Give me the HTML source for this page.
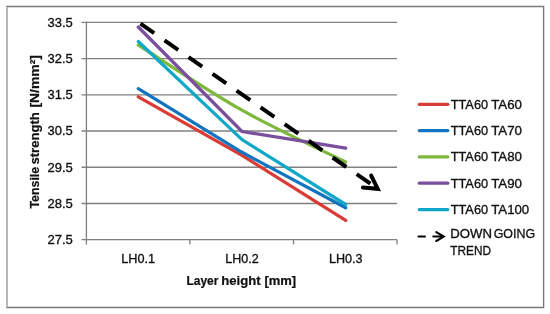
<!DOCTYPE html>
<html><head><meta charset="utf-8"><style>
html,body{margin:0;padding:0;background:#fff;}
body{width:550px;height:314px;overflow:hidden;position:relative;}
svg{position:absolute;left:0;top:0;}
text{font-family:"Liberation Sans",Arial,sans-serif;font-size:13px;fill:#111;stroke:#111;stroke-width:0.33px;}
.b{stroke-width:0.22px;font-size:12.5px;}
.b{font-weight:bold;}
</style></head><body>
<svg width="550" height="314" viewBox="0 0 550 314">
<rect x="0" y="0" width="550" height="314" fill="#fff"/>
<path d="M6.3,6.5 H543.6 V307.5 H6.3" fill="none" stroke="#787878" stroke-width="1.4" stroke-linejoin="miter"/>
<line x1="7" y1="7.2" x2="7" y2="306.8" stroke="#9a9a9a" stroke-width="1.4"/>
<line x1="81.5" y1="22.33" x2="397" y2="22.33" stroke="#808080" stroke-width="1.3"/>
<line x1="81.5" y1="58.56" x2="397" y2="58.56" stroke="#808080" stroke-width="1.3"/>
<line x1="81.5" y1="94.79" x2="397" y2="94.79" stroke="#808080" stroke-width="1.3"/>
<line x1="81.5" y1="131.02" x2="397" y2="131.02" stroke="#808080" stroke-width="1.3"/>
<line x1="81.5" y1="167.25" x2="397" y2="167.25" stroke="#808080" stroke-width="1.3"/>
<line x1="81.5" y1="203.48" x2="397" y2="203.48" stroke="#808080" stroke-width="1.3"/>
<line x1="81.5" y1="239.71" x2="397" y2="239.71" stroke="#808080" stroke-width="1.3"/>
<line x1="86.4" y1="21.7" x2="86.4" y2="244.5" stroke="#808080" stroke-width="1.3"/>
<line x1="189.9" y1="239.7" x2="189.9" y2="244.5" stroke="#808080" stroke-width="1.3"/>
<line x1="293.5" y1="239.7" x2="293.5" y2="244.5" stroke="#808080" stroke-width="1.3"/>
<line x1="397" y1="239.7" x2="397" y2="244.5" stroke="#808080" stroke-width="1.3"/>
<path d="M138.30,96.80 L242.00,155.30 L345.70,220.30" fill="none" stroke="#DA3B35" stroke-width="3.25" stroke-linecap="round" stroke-linejoin="round"/>
<path d="M138.30,88.60 L242.00,152.30 L345.70,207.80" fill="none" stroke="#1174C0" stroke-width="3.25" stroke-linecap="round" stroke-linejoin="round"/>
<path d="M138.30,45.00 C155.58,55.87 207.43,90.70 242.00,110.20 C276.57,129.70 328.42,153.37 345.70,162.00" fill="none" stroke="#7DB83A" stroke-width="3.25" stroke-linecap="round" stroke-linejoin="round"/>
<path d="M138.30,27.00 L242.00,131.50 L345.70,148.20" fill="none" stroke="#7A4F9E" stroke-width="3.25" stroke-linecap="round" stroke-linejoin="round"/>
<path d="M138.30,41.50 L242.00,139.60 L345.70,204.50" fill="none" stroke="#10A8C8" stroke-width="3.25" stroke-linecap="round" stroke-linejoin="round"/>
<line x1="140.5" y1="23.7" x2="372.2" y2="185.0" stroke="#000" stroke-width="4" stroke-dasharray="16.65 12.62"/>
<polyline points="371.2,175.6 377.7,188.8 362.9,187.4" fill="none" stroke="#000" stroke-width="4" stroke-linecap="round" stroke-linejoin="miter"/>

<text x="47.60" y="26.63" textLength="25.25" lengthAdjust="spacingAndGlyphs">33.5</text>
<text x="47.60" y="62.86" textLength="25.25" lengthAdjust="spacingAndGlyphs">32.5</text>
<text x="47.60" y="99.09" textLength="25.25" lengthAdjust="spacingAndGlyphs">31.5</text>
<text x="47.60" y="135.32" textLength="25.25" lengthAdjust="spacingAndGlyphs">30.5</text>
<text x="47.45" y="171.55" textLength="25.41" lengthAdjust="spacingAndGlyphs">29.5</text>
<text x="47.45" y="207.78" textLength="25.41" lengthAdjust="spacingAndGlyphs">28.5</text>
<text x="47.45" y="244.01" textLength="25.41" lengthAdjust="spacingAndGlyphs">27.5</text>
<text x="121.28" y="262.70" textLength="33.85" lengthAdjust="spacingAndGlyphs">LH0.1</text>
<text x="225.19" y="262.70" textLength="33.43" lengthAdjust="spacingAndGlyphs">LH0.2</text>
<text x="328.88" y="262.70" textLength="33.69" lengthAdjust="spacingAndGlyphs">LH0.3</text>

<text class="b" x="186.4" y="284.7" textLength="32" lengthAdjust="spacingAndGlyphs">Layer</text><text class="b" x="221.3" y="284.7" textLength="39.3" lengthAdjust="spacingAndGlyphs">height</text><text class="b" x="264.4" y="284.7" textLength="31.8" lengthAdjust="spacingAndGlyphs">[mm]</text>
<g transform="translate(38.9,208.2) rotate(-90)"><text class="b" x="-0.3" y="0" textLength="41.6" lengthAdjust="spacingAndGlyphs">Tensile</text><text class="b" x="43.7" y="0" textLength="52.3" lengthAdjust="spacingAndGlyphs">strength</text><text class="b" x="100.6" y="0" textLength="52.6" lengthAdjust="spacingAndGlyphs">[N/mm²]</text></g>
<line x1="419.3" y1="104.30" x2="447.8" y2="104.30" stroke="#DA3B35" stroke-width="3.25" stroke-linecap="round"/>
<text x="450.70" y="108.60" textLength="37.43" lengthAdjust="spacingAndGlyphs">TTA60</text>
<text x="491.19" y="108.60" textLength="30.83" lengthAdjust="spacingAndGlyphs">TA60</text>
<line x1="419.3" y1="130.60" x2="447.8" y2="130.60" stroke="#1174C0" stroke-width="3.25" stroke-linecap="round"/>
<text x="450.70" y="134.90" textLength="37.43" lengthAdjust="spacingAndGlyphs">TTA60</text>
<text x="491.19" y="134.90" textLength="30.83" lengthAdjust="spacingAndGlyphs">TA70</text>
<line x1="419.3" y1="156.90" x2="447.8" y2="156.90" stroke="#7DB83A" stroke-width="3.25" stroke-linecap="round"/>
<text x="450.70" y="161.20" textLength="37.43" lengthAdjust="spacingAndGlyphs">TTA60</text>
<text x="491.19" y="161.20" textLength="30.83" lengthAdjust="spacingAndGlyphs">TA80</text>
<line x1="419.3" y1="183.20" x2="447.8" y2="183.20" stroke="#7A4F9E" stroke-width="3.25" stroke-linecap="round"/>
<text x="450.70" y="187.50" textLength="37.43" lengthAdjust="spacingAndGlyphs">TTA60</text>
<text x="491.19" y="187.50" textLength="30.83" lengthAdjust="spacingAndGlyphs">TA90</text>
<line x1="419.3" y1="209.50" x2="447.8" y2="209.50" stroke="#10A8C8" stroke-width="3.25" stroke-linecap="round"/>
<text x="450.70" y="213.80" textLength="37.43" lengthAdjust="spacingAndGlyphs">TTA60</text>
<text x="491.19" y="213.80" textLength="38.05" lengthAdjust="spacingAndGlyphs">TA100</text>
<line x1="418.5" y1="236.55" x2="424.9" y2="236.55" stroke="#000" stroke-width="2.1" stroke-linecap="round"/>
<line x1="433.3" y1="236.55" x2="443" y2="236.55" stroke="#000" stroke-width="2.1" stroke-linecap="round"/>
<polyline points="436.3,232.1 443.7,236.55 436.3,241.0" fill="none" stroke="#000" stroke-width="2.1" stroke-linecap="round" stroke-linejoin="miter"/>
<text x="450.24" y="238.30" textLength="41.74" lengthAdjust="spacingAndGlyphs">DOWN</text>
<text x="493.68" y="238.30" textLength="41.46" lengthAdjust="spacingAndGlyphs">GOING</text>
<text x="450.33" y="254.80" textLength="40.64" lengthAdjust="spacingAndGlyphs">TREND</text>

</svg>
</body></html>
